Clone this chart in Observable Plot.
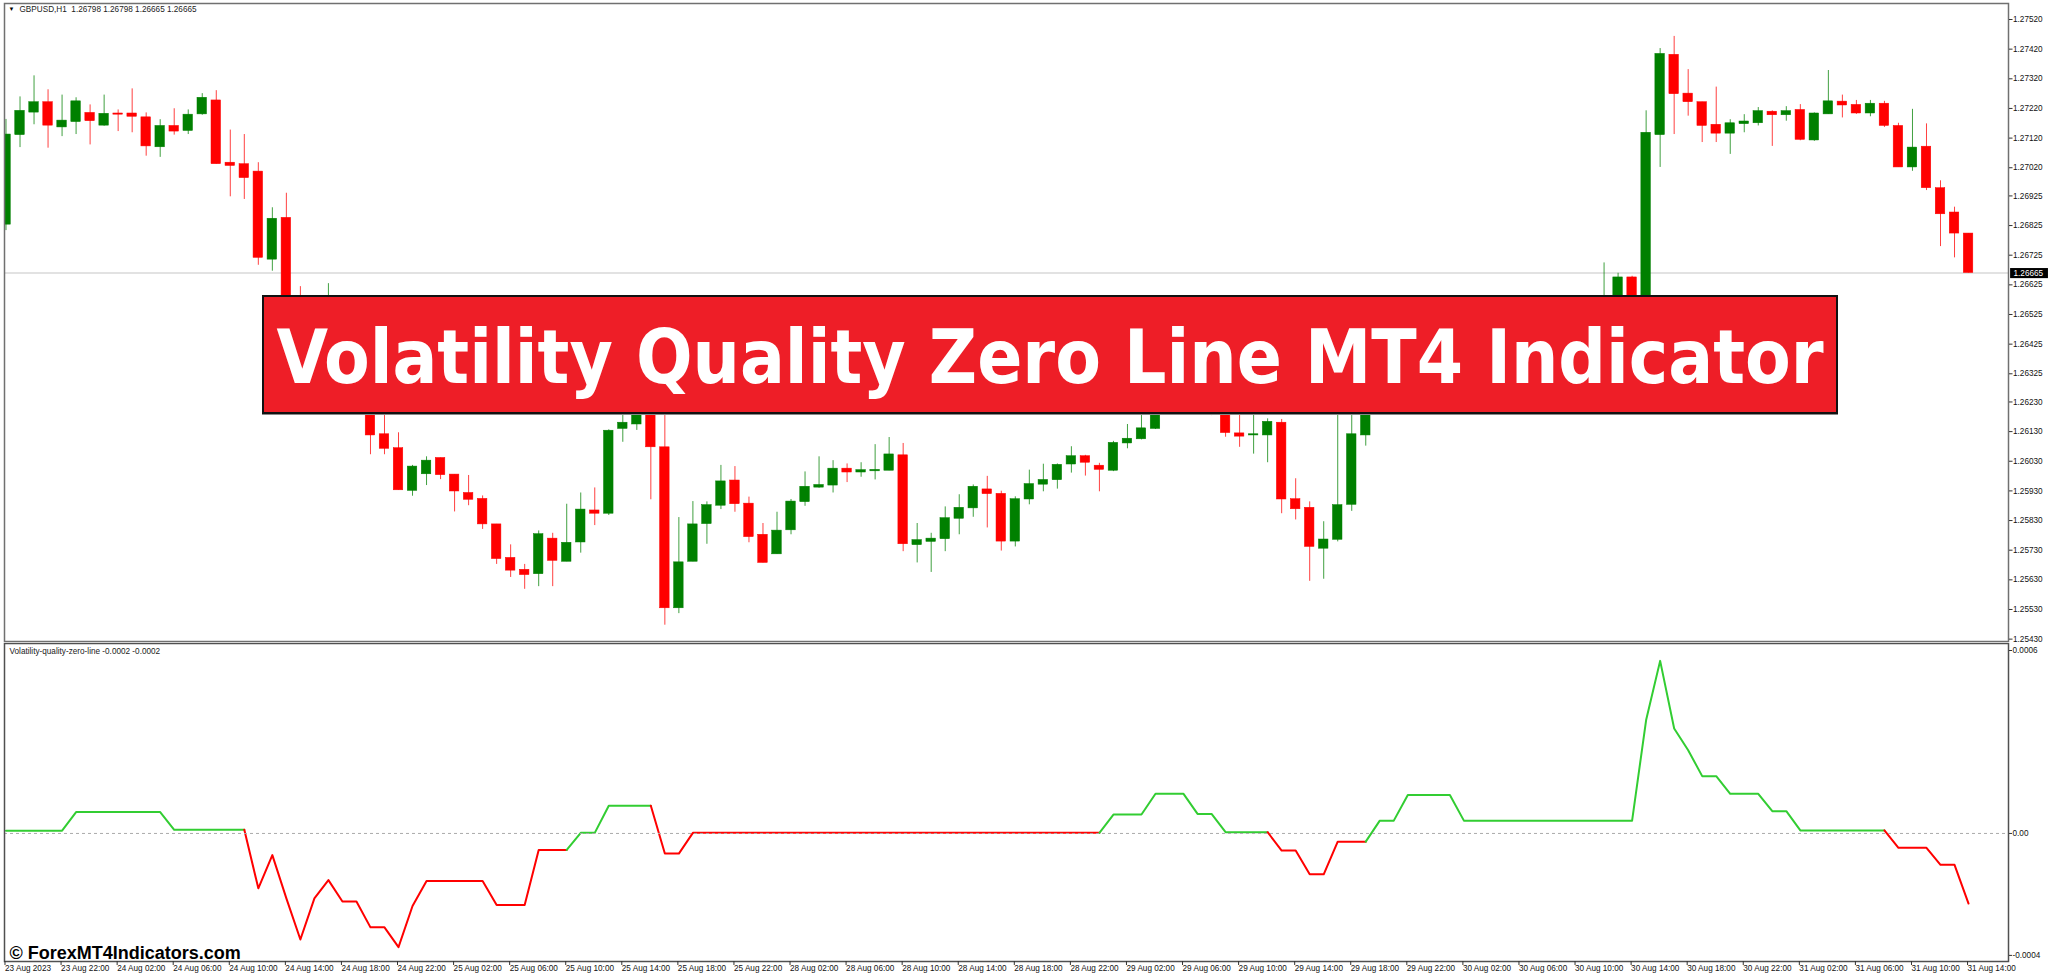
<!DOCTYPE html>
<html>
<head>
<meta charset="utf-8">
<script src="https://cdn.jsdelivr.net/npm/d3@7"></script>
<script src="https://cdn.jsdelivr.net/npm/@observablehq/plot@0.6"></script>
<style>
html,body{margin:0;padding:0;background:#fff;overflow:hidden}
#page{position:relative;width:2048px;height:976px;overflow:hidden}
#page svg{display:block;max-width:none}
#banner{position:absolute;left:262px;top:295px;width:1572px;height:115px;border:2px solid #111;background:#ee1e27;box-shadow:0 1px 0 #888;color:#fff;
font-family:"DejaVu Sans Condensed","DejaVu Sans",sans-serif;font-stretch:condensed;font-weight:700;font-size:74px;line-height:121px;text-align:center;white-space:nowrap;letter-spacing:0px}
</style>
</head>
<body>
<div id="page"><div id="banner">Volatility Quality Zero Line MT4 Indicator</div></div>
<script>
// GBPUSD H1 candles, in price points (1 point = 0.00001)
const open = [
126828,127130,127206,127241,127156,127174,127205,127162,127203,127203,
127190,127089,127161,127144,127200,127247,127037,127032,127007,126710,
126851,126572,126403,126420,126471,126319,126218,126121,126074,125930,
125986,126041,125985,125923,125903,125817,125704,125664,125649,125769,
125691,125756,125864,125853,126139,126154,126208,126077,125534,125691,
125818,125880,125965,125887,125782,125716,125797,125892,125941,125948,
126005,125992,125996,125998,126050,125747,125758,125767,125836,125871,
125935,125920,125759,125901,125951,125966,126019,126047,126015,125998,
126090,126104,126139,126201,126262,126228,126296,126218,126124,126117,
126117,126160,125902,125873,125735,125765,125883,126117,126218,126300,
126240,126320,126380,126330,126400,126350,126420,126370,126430,126390,
126450,126500,126460,126520,126480,126505,126650,126480,127130,127401,
127270,127241,127165,127135,127167,127170,127209,127197,127215,127112,
127200,127243,127232,127203,127236,127161,127021,127091,126951,126869,
126798];
const high = [
127183,127259,127330,127283,127265,127256,127232,127265,127215,127286,
127205,127182,127219,127215,127270,127280,127147,127132,127037,126885,
126934,126619,126505,126629,126488,126370,126252,126235,126126,126016,
126045,126041,125985,125982,125913,125817,125748,125682,125795,125787,
125885,125923,125940,126136,126218,126252,126235,126218,125840,125894,
125893,126016,126012,125909,125820,125858,125901,125994,126045,126032,
126021,126025,126086,126110,126090,125820,125787,125876,125917,125950,
125979,125929,125910,126000,126020,126021,126079,126050,126023,126097,
126154,126201,126252,126285,126302,126336,126329,126252,126235,126252,
126173,126171,125971,125893,125826,126235,126269,126252,126330,126320,
126350,126420,126400,126430,126420,126450,126450,126470,126460,126490,
126530,126530,126550,126550,126699,126664,126654,127212,127422,127463,
127351,127241,127292,127182,127199,127223,127212,127226,127233,127205,
127348,127265,127247,127247,127244,127170,127217,127168,126976,126887,
126798];
const low = [
126808,127088,127165,127086,127125,127132,127097,127160,127142,127138,
127059,127055,127130,127132,127197,127032,126922,126913,126691,126671,
126538,126370,126353,126336,126269,126194,126052,126052,125932,125912,
125948,125968,125859,125880,125800,125682,125638,125598,125607,125607,
125691,125720,125813,125847,126094,126134,125900,125477,125516,125691,
125750,125867,125858,125755,125687,125716,125782,125878,125939,125923,
125958,125976,125967,125998,125725,125687,125655,125725,125782,125841,
125805,125727,125741,125883,125927,125936,125990,125980,125927,125995,
126072,126102,126137,126194,126201,126208,126184,126111,126077,126054,
126025,125853,125832,125625,125632,125758,125861,126081,126190,126200,
126210,126290,126300,126310,126320,126330,126340,126350,126360,126370,
126420,126430,126440,126450,126450,126470,126440,126440,127021,127132,
127194,127105,127105,127065,127138,127161,127092,127177,127111,127109,
127200,127188,127200,127192,127156,127021,127008,126943,126754,126716,
126665];
const close = [
127132,127212,127241,127162,127179,127244,127177,127202,127199,127192,
127092,127161,127142,127199,127256,127032,127026,126985,126716,126848,
126555,126420,126471,126505,126319,126218,126117,126072,125932,126012,
126032,125983,125928,125900,125817,125700,125661,125646,125784,125694,
125755,125867,125853,126133,126160,126218,126077,125534,125689,125817,
125882,125962,125885,125774,125687,125796,125894,125944,125950,126005,
125992,126000,126001,126053,125750,125764,125769,125838,125873,125944,
125919,125759,125902,125953,125967,126018,126047,126025,126001,126092,
126106,126141,126208,126252,126228,126302,126218,126125,126113,126121,
126163,125901,125868,125741,125766,125882,126121,126218,126300,126240,
126320,126380,126330,126400,126350,126420,126370,126430,126390,126450,
126500,126460,126520,126480,126572,126650,126471,127138,127404,127268,
127241,127161,127135,127170,127176,127211,127197,127211,127114,127203,
127244,127230,127203,127236,127161,127021,127088,126951,126863,126798,
126665];
// Volatility quality zero line, in units of 0.0001
const vq = [
0.09,0.09,0.09,0.09,0.09,0.70,0.70,0.70,0.70,0.70,
0.70,0.70,0.12,0.12,0.12,0.12,0.12,0.12,-1.80,-0.71,
-2.13,-3.48,-2.13,-1.53,-2.23,-2.23,-3.08,-3.08,-3.73,-2.38,
-1.56,-1.56,-1.56,-1.56,-1.56,-2.35,-2.35,-2.35,-0.54,-0.54,
-0.54,0.02,0.02,0.91,0.91,0.91,0.91,-0.66,-0.66,0.02,
0.02,0.02,0.02,0.02,0.02,0.02,0.02,0.02,0.02,0.02,
0.02,0.02,0.02,0.02,0.02,0.02,0.02,0.02,0.02,0.02,
0.02,0.02,0.02,0.02,0.02,0.02,0.02,0.02,0.02,0.62,
0.62,0.62,1.30,1.30,1.30,0.64,0.64,0.04,0.04,0.04,
0.04,-0.56,-0.56,-1.34,-1.34,-0.27,-0.27,-0.27,0.42,0.42,
1.26,1.26,1.26,1.26,0.42,0.42,0.42,0.42,0.42,0.42,
0.42,0.42,0.42,0.42,0.42,0.42,0.42,3.72,5.66,3.44,
2.73,1.88,1.88,1.30,1.30,1.30,0.73,0.73,0.10,0.10,
0.10,0.10,0.10,0.10,0.10,-0.47,-0.47,-0.47,-1.03,-1.03,
-2.30];
// Colour state of the segment leaving each bar: 1 up, 0 down
const vqUp = [
1,1,1,1,1,1,1,1,1,1, 1,1,1,1,1,1,1,0,0,0,
0,0,0,0,0,0,0,0,0,0, 0,0,0,0,0,0,0,0,0,0,
1,1,1,1,1,1,0,0,0,0, 0,0,0,0,0,0,0,0,0,0,
0,0,0,0,0,0,0,0,0,0, 0,0,0,0,0,0,0,0,1,1,
1,1,1,1,1,1,1,1,1,1, 0,0,0,0,0,0,0,1,1,1,
1,1,1,1,1,1,1,1,1,1, 1,1,1,1,1,1,1,1,1,1,
1,1,1,1,1,1,1,1,1,1, 1,1,1,1,0,0,0,0,0,0,
0];
const priceTicks = [1.27520,1.27420,1.27320,1.27220,1.27120,1.27020,1.26925,1.26825,1.26725,1.26625,1.26525,
1.26425,1.26325,1.26230,1.26130,1.26030,1.25930,1.25830,1.25730,1.25630,1.25530,1.25430];
const vqTicks = [0.0006,0,-0.0004];
const vqTickLabels = ["0.0006","0.00","-0.0004"];
const timeTickBars = [0,4,8,12,16,20,24,28,32,36,40,44,48,52,56,60,64,68,72,76,80,84,88,92,96,100,104,108,112,116,120,124,128,132,136,140];
const timeTickLabels = ["23 Aug 2023","23 Aug 22:00","24 Aug 02:00","24 Aug 06:00","24 Aug 10:00","24 Aug 14:00","24 Aug 18:00","24 Aug 22:00",
"25 Aug 02:00","25 Aug 06:00","25 Aug 10:00","25 Aug 14:00","25 Aug 18:00","25 Aug 22:00",
"28 Aug 02:00","28 Aug 06:00","28 Aug 10:00","28 Aug 14:00","28 Aug 18:00","28 Aug 22:00",
"29 Aug 02:00","29 Aug 06:00","29 Aug 10:00","29 Aug 14:00","29 Aug 18:00","29 Aug 22:00",
"30 Aug 02:00","30 Aug 06:00","30 Aug 10:00","30 Aug 14:00","30 Aug 18:00","30 Aug 22:00",
"31 Aug 02:00","31 Aug 06:00","31 Aug 10:00","31 Aug 14:00"];
const lastPrice = 1.26665;
const priceTagBand = [1.26646,1.26680];
const chartLabel = "GBPUSD,H1  1.26798 1.26798 1.26665 1.26665";
const vqLabel = "Volatility-quality-zero-line -0.0002 -0.0002";
const watermark = "© ForexMT4Indicators.com";

const bars = open.map((o,i)=>({i,o:o/1e5,h:high[i]/1e5,l:low[i]/1e5,c:close[i]/1e5,up:close[i]>=o}));
const vqRows = vq.map((v,i)=>({i,v:v/1e4,up:vqUp[i]}));

const RED="#ff0000", GREEN="#008000", LINE_GREEN="#32cd32";
const font={background:"transparent",fontFamily:"'Liberation Sans',sans-serif",fontSize:"8.2px",color:"#111"};
const xDomain=[-0.107,142.85];
const bodyHalf=0.34;

const chart = Plot.plot({
  width:2048,height:642,marginTop:3,marginBottom:1,marginLeft:4,marginRight:40,
  style:font,
  x:{domain:xDomain,axis:null},
  y:{domain:[1.25422,1.27574],axis:null},
  marks:[
    Plot.ruleY([lastPrice],{stroke:"#d9d9d9",strokeWidth:1.5}),
    Plot.ruleX(bars,{x:"i",y1:"l",y2:"h",stroke:d=>d.up?GREEN:RED,strokeWidth:1,strokeOpacity:0.75,clip:"frame"}),
    Plot.rect(bars,{x1:d=>d.i-bodyHalf,x2:d=>d.i+bodyHalf,y1:"o",y2:"c",fill:d=>d.up?GREEN:RED,stroke:d=>d.up?GREEN:RED,strokeWidth:0.5,clip:"frame"}),
    Plot.frame({stroke:"#707070",strokeWidth:1.5}),
    Plot.axisY({anchor:"right",ticks:priceTicks,tickFormat:d=>d.toFixed(5),tickSize:3.5,tickPadding:1,label:null,stroke:"#333"}),
    Plot.rect([priceTagBand],{x1:()=>143.0,x2:()=>145.7,y1:d=>d[0],y2:d=>d[1],fill:"#000"}),
    Plot.text([lastPrice],{y:d=>d,text:d=>d.toFixed(5),frameAnchor:"right",textAnchor:"start",dx:5,fill:"#fff"}),
    Plot.text(["▼"],{frameAnchor:"top-left",dx:4,dy:3.5,fontSize:6,fill:"#000",lineAnchor:"top"}),
    Plot.text([chartLabel],{frameAnchor:"top-left",dx:15,dy:3,lineAnchor:"top",textAnchor:"start",fill:"#222"})
  ]
});
const panel = Plot.plot({
  width:2048,height:334,marginTop:1,marginBottom:15,marginLeft:4,marginRight:40,
  style:font,
  x:{domain:xDomain,axis:null},
  y:{domain:[-0.00042,0.000623],axis:null},
  marks:[
    Plot.line(vqRows,{x:"i",y:"v",z:null,stroke:d=>d.up?LINE_GREEN:RED,strokeWidth:2,curve:"linear",clip:"frame"}),
    Plot.ruleY([0],{stroke:"#aaa",strokeWidth:1,strokeDasharray:"3,3"}),
    Plot.frame({stroke:"#505050",strokeWidth:1.5}),
    Plot.axisY({anchor:"right",ticks:vqTicks,tickFormat:(d,i)=>vqTickLabels[i],tickSize:3,tickPadding:1,label:null,stroke:"#333"}),
    Plot.axisX({ticks:timeTickBars,tickFormat:(d,i)=>timeTickLabels[i],tickSize:4,tickPadding:0,textAnchor:"start",label:null,stroke:"#333",dx:-1}),
    Plot.text([vqLabel],{frameAnchor:"top-left",dx:5,dy:5,lineAnchor:"top",textAnchor:"start",fill:"#222"}),
    Plot.text([watermark],{frameAnchor:"bottom-left",dx:5,dy:-3,lineAnchor:"bottom",textAnchor:"start",fontSize:18,fontWeight:700,fill:"#000",fontFamily:"'Liberation Sans',sans-serif"})
  ]
});
const page=document.getElementById("page");
const banner=document.getElementById("banner");
page.insertBefore(chart,banner);
page.insertBefore(panel,banner);
</script>
</body>
</html>
